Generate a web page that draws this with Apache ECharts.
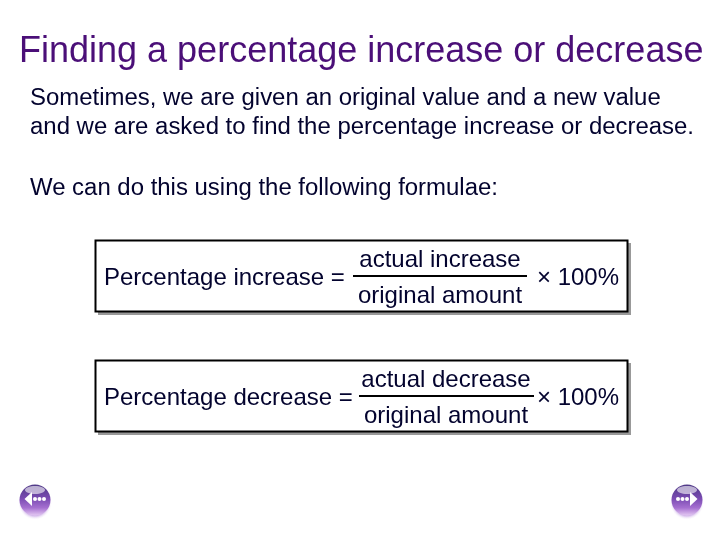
<!DOCTYPE html>
<html>
<head>
<meta charset="UTF-8">
<title>Finding a percentage increase or decrease</title>
<script src="https://cdn.jsdelivr.net/npm/echarts@6/dist/echarts.min.js"></script>
<style>
  html,body{margin:0;padding:0;background:#fff}
</style>
</head>
<body>
<div id="main" style="width:720px;height:540px"></div>
<script>
var titleText = 'Finding a percentage increase or decrease';
var introLines = [
  'Sometimes, we are given an original value and a new value',
  'and we are asked to find the percentage increase or decrease.',
  'We can do this using the following formulae:'
];
var formulaNames = ['Percentage increase =', 'Percentage decrease ='];
var numerators = ['actual increase', 'actual decrease'];
var denominators = ['original amount', 'original amount'];
var multiplier = '\u00d7 100%';

var FONT = '"Liberation Sans", Arial, sans-serif';
var INK = '#03032e';

function label(str, x, y, size, color, align) {
  return {
    type: 'text', x: x, y: y, z: 10,
    style: {
      text: str, fill: color || INK, font: size + 'px ' + FONT,
      textAlign: align || 'left', textVerticalAlign: 'middle'
    }
  };
}

// round glossy nav button, dir -1 points left
function button(cx, cy, dir) {
  var parts = [
    { type: 'circle', shape: { cx: cx, cy: cy + 3, r: 17 }, style: {
      fill: { type: 'radial', x: 0.5, y: 0.5, r: 0.5, colorStops: [
        { offset: 0.75, color: 'rgba(190,150,225,0.7)' }, { offset: 1, color: 'rgba(255,255,255,0)' }
      ] }
    } },
    { type: 'circle', shape: { cx: cx, cy: cy, r: 15.5 }, style: {
      fill: { type: 'linear', x: 0, y: 0, x2: 0, y2: 1, colorStops: [
        { offset: 0, color: '#4f3a86' }, { offset: 0.45, color: '#7a4bb2' },
        { offset: 0.75, color: '#a56fd0' }, { offset: 1, color: '#e3c8f2' }
      ] }
    } },
    { type: 'ellipse', shape: { cx: cx, cy: cy - 10, rx: 10, ry: 4 }, style: { fill: 'rgba(255,255,255,0.6)' } },
    { type: 'polygon', shape: { points: [[cx + dir * 10.5, cy - 1], [cx + dir * 3, cy - 8], [cx + dir * 3, cy + 6]] }, style: { fill: '#fff' } }
  ];
  [-9, -4.5, 0].forEach(function (d) {
    parts.push({ type: 'circle', shape: { cx: cx + dir * d, cy: cy - 1, r: 2 }, style: { fill: '#fff' } });
  });
  return parts;
}

var els = [];
els.push(label(titleText, 19, 52, 36, '#4b0f78'));
els.push(label(introLines[0], 30, 98, 23.95));
els.push(label(introLines[1], 30, 127, 23.95));
els.push(label(introLines[2], 30, 188, 23.95));

[240, 360].forEach(function (top, i) {
  var lineX = i === 0 ? [353, 527] : [359, 534];
  var numX = i === 0 ? 440 : 446;
  els.push({ type: 'rect', shape: { x: 98, y: top + 3, width: 533, height: 72 }, style: { fill: '#999' } });
  els.push({ type: 'rect', shape: { x: 95.5, y: top + 0.5, width: 532, height: 71 }, style: { fill: '#fff', stroke: '#000', lineWidth: 2 } });
  els.push(label(formulaNames[i], 104, top + 38, 24));
  els.push(label(numerators[i], numX, top + 20, 24, INK, 'center'));
  els.push(label(denominators[i], numX, top + 56, 24, INK, 'center'));
  els.push({ type: 'line', shape: { x1: lineX[0], y1: top + 36, x2: lineX[1], y2: top + 36 }, style: { stroke: '#000', lineWidth: 2 } });
  els.push(label(multiplier, 578, top + 38, 24, INK, 'center'));
});

els = els.concat(button(35, 500, -1), button(687, 500, 1));

var myEcharts = echarts.init(document.getElementById('main'));
myEcharts.setOption({ animation: false, graphic: { elements: els } });
</script>
</body>
</html>
